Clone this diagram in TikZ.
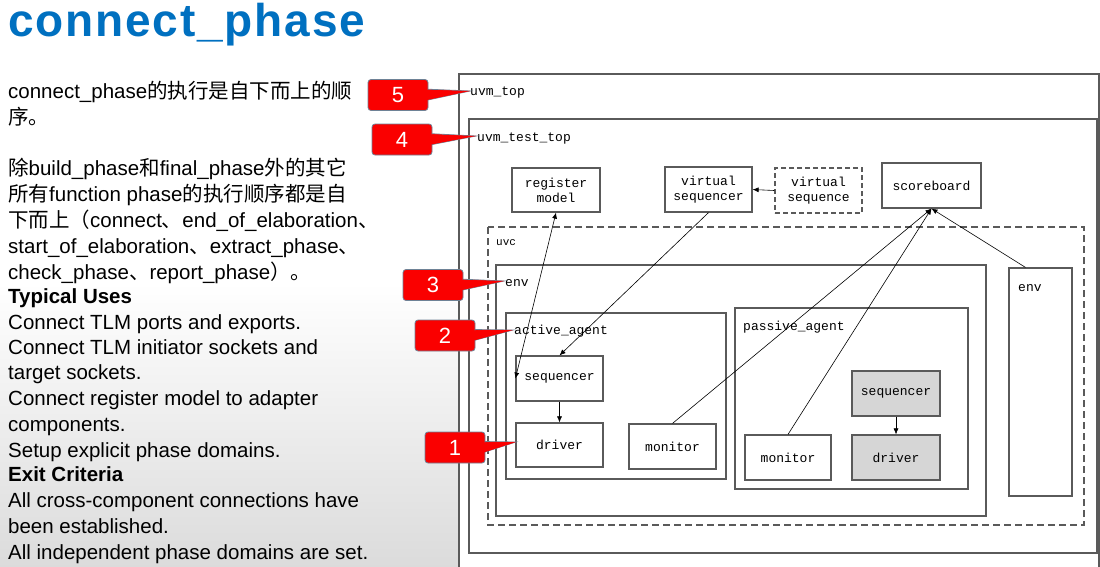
\documentclass[tikz,border=0pt]{standalone}
\usepackage{fontspec}
\setmainfont{Liberation Sans}
\newfontfamily\zhf{Noto Sans CJK SC}
\newfontfamily\monof{Liberation Mono}
\newcommand{\zh}[1]{{\zhf #1}}
\usetikzlibrary{calc,arrows.meta}
\definecolor{boxc}{RGB}{90,90,90}
\definecolor{titleblue}{RGB}{0,112,192}
\definecolor{calred}{RGB}{250,0,0}
\definecolor{caledge}{RGB}{110,130,150}
\begin{document}
\begin{tikzpicture}[x=1pt,y=-1pt,
  box/.style={draw=boxc,line width=1.2pt,fill=white,inner sep=0pt,font=\monof\fontsize{13}{15}\selectfont,align=center},
  gbox/.style={box,fill=black!16},
  cont/.style={draw=boxc,line width=1.2pt},
  dcont/.style={draw=boxc,line width=1.2pt,dash pattern=on 7pt off 4pt},
  lab/.style={font=\monof\fontsize{13}{15}\selectfont,anchor=base west,inner sep=0pt},
  txt/.style={font=\fontsize{20.5}{24}\selectfont,anchor=base west,inner sep=0pt},
  conn/.style={draw=black,line width=0.6pt,-{Latex[length=6pt,width=5pt]}},
  cal/.style={fill=calred,draw=caledge,line width=0.8pt,rounded corners=3pt,minimum width=60pt,minimum height=31pt,inner sep=0pt,text=white,font=\fontsize{22}{24}\selectfont}
]
\useasboundingbox (0,0) rectangle (1100,566);
\fill[white] (0,0) rectangle (1100,566);
\shade[top color=white,bottom color=black!14,middle color=white] (0,0) rectangle (459,566);
% title
\node[anchor=base west,inner sep=0pt,text=titleblue,font=\bfseries\fontsize{46}{50}\selectfont\addfontfeatures{LetterSpace=4}] (title) at (8,36) {connect\_phase};
% left text
\node[txt] (t1) at (8,98) {connect\_phase\zh{的执行是自下而上的顺}};
\node[txt] (t2) at (8,124) {\zh{序。}};
\node[txt] (t3) at (8,175) {\zh{除}build\_phase\zh{和}final\_phase\zh{外的其它}};
\node[txt] (t4) at (8,201) {\zh{所有}function phase\zh{的执行顺序都是自}};
\node[txt] (t5) at (8,227) {\zh{下而上（}connect\zh{、}end\_of\_elaboration\zh{、}};
\node[txt] (t6) at (8,253) {start\_of\_elaboration\zh{、}extract\_phase\zh{、}};
\node[txt] (t7) at (8,279) {check\_phase\zh{、}report\_phase\zh{）。}};
\node[txt,font=\bfseries\fontsize{20.5}{24}\selectfont] (t8) at (8,303) {Typical Uses};
\node[txt] (t9) at (8,329) {Connect TLM ports and exports.};
\node[txt] (t10) at (8,354) {Connect TLM initiator sockets and};
\node[txt] (t11) at (8,379) {target sockets.};
\node[txt] (t12) at (8,405) {Connect register model to adapter};
\node[txt] (t13) at (8,431) {components.};
\node[txt] (t14) at (8,457) {Setup explicit phase domains.};
\node[txt,font=\bfseries\fontsize{20.5}{24}\selectfont] (t15) at (8,481) {Exit Criteria};
\node[txt] (t16) at (8,507) {All cross-component connections have};
\node[txt] (t17) at (8,533) {been established.};
\node[txt] (t18) at (8,559) {All independent phase domains are set.};
% containers
\draw[cont,fill=white] (459,74) rectangle (1099,580);
\draw[cont] (469,119) rectangle (1097,553);
\draw[dcont] (488,227) rectangle (1084,525);
\draw[cont] (496,265) rectangle (986,516);
\draw[cont] (506,313) rectangle (726,479);
\draw[cont] (735,308) rectangle (968,489);
\node[lab] (luvmtop) at (470,95) {uvm\_top};
\node[lab] (ltest) at (477,141) {uvm\_test\_top};
\node[lab,font=\monof\fontsize{11}{13}\selectfont] (luvc) at (496,245) {uvc};
\node[lab] (lenv) at (505,286) {env};
\node[lab] (lact) at (514,334) {active\_agent};
\node[lab] (lpas) at (743,330) {passive\_agent};
% boxes
\node[box,minimum width=88pt,minimum height=44pt] (regm) at (556,190) {register\\model};
\node[box,minimum width=87pt,minimum height=45pt] (vseqr) at (708.5,189.5) {virtual\\sequencer};
\node[box,dash pattern=on 5pt off 3pt,minimum width=87pt,minimum height=45pt] (vseq) at (818.5,190.5) {virtual\\sequence};
\node[box,minimum width=99pt,minimum height=45pt] (sb) at (931.5,185.5) {scoreboard};
\node[box,minimum width=87pt,minimum height=45pt] (seq) at (559.5,378.5) {sequencer};
\node[box,minimum width=87pt,minimum height=44pt] (drv) at (559.5,445) {driver};
\node[box,minimum width=87pt,minimum height=45pt] (mon) at (672.5,446.5) {monitor};
\node[box,minimum width=86pt,minimum height=45pt] (pmon) at (788,457.5) {monitor};
\node[gbox,minimum width=88pt,minimum height=45pt] (pseq) at (896,393.5) {sequencer};
\node[gbox,minimum width=88pt,minimum height=45pt] (pdrv) at (896,457.5) {driver};
\node[box,minimum width=63pt,minimum height=228pt] (env2) at (1040.5,382) {};
\node[lab] (lenv2) at (1018,291) {env};
% connectors
\draw[conn,{Latex[length=6pt,width=5pt]}-{Latex[length=6pt,width=5pt]}] (seq.west) -- (regm.south);
\draw[conn] (vseqr.south) -- (seq.north);
\draw[conn] (seq.south) -- (drv.north);
\draw[conn] (vseq.west) -- (vseqr.east);
\draw[conn] (pseq.south) -- (pdrv.north);
\draw[conn] (mon.north) -- (sb.south);
\draw[conn] (pmon.north) -- (sb.south);
\draw[conn] ($(env2.north)+(-15,0)$) -- (sb.south);
% callouts
\foreach \n/\bx/\by/\tx/\ty in {5/398/95/470/91, 4/402/139.5/476/136, 3/433/285/504/281, 2/445/335.5/513/330, 1/455/447.5/516/442}{
  \coordinate (tip\n) at (\tx,\ty);
  \fill[calred,draw=caledge,line width=0.8pt] (\bx+25,\by-6) -- (tip\n) -- (\bx+25,\by+6) -- cycle;
  \node[cal] (c\n) at (\bx,\by) {\n};
  \fill[calred] (\bx+28,\by-5.2) -- (tip\n) -- (\bx+28,\by+5.2) -- cycle;
}
\end{tikzpicture}
\end{document}
